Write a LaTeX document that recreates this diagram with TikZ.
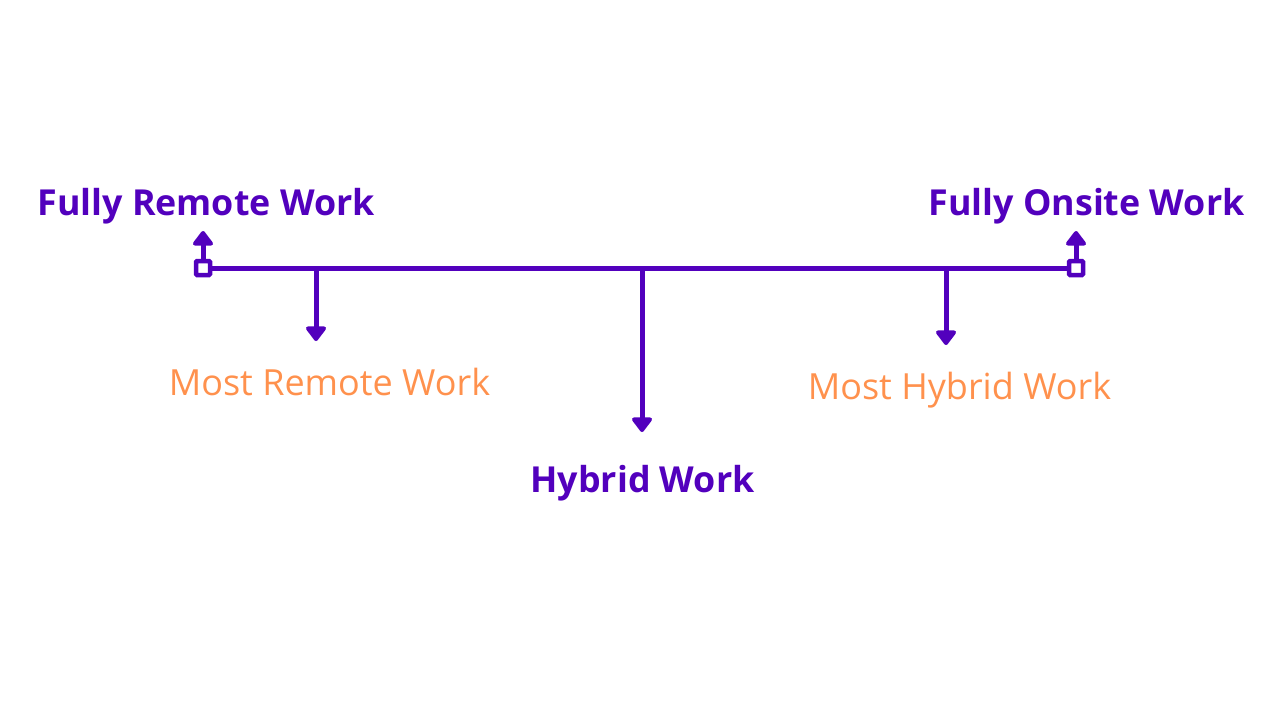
\documentclass[tikz,border=0pt]{standalone}
\usepackage{fontspec}
\setmainfont{Open Sans}
\usetikzlibrary{arrows.meta}
\definecolor{purp}{HTML}{5200BD}
\definecolor{orng}{HTML}{FF914D}
\tikzset{
  axis/.style={draw=purp, line width=5pt, line cap=round},
  tipline/.style={draw=purp, line width=5pt, -{Triangle[width=23pt,length=16pt,round]}},
  endbox/.style={draw=purp, line width=4.5pt, fill=white, minimum size=14pt, inner sep=0pt, rounded corners=1pt},
  mainlbl/.style={text=purp, font=\bfseries\fontsize{35.8}{40}\selectfont, anchor=base, inner sep=0pt},
  sublbl/.style={text=orng, font=\fontsize{36}{40}\selectfont, anchor=base, inner sep=0pt}
}
\begin{document}
\begin{tikzpicture}[x=1pt,y=-1pt]
\useasboundingbox (0,0) rectangle (1280,720);
\coordinate (m1) at (316,268);
\coordinate (m2) at (642,268);
\coordinate (m3) at (946,268);
\coordinate (t1) at (316,341);
\coordinate (t2) at (642,432);
\coordinate (t3) at (946,345);
\coordinate (uL) at (203,231);
\coordinate (uR) at (1076,231);
\node[endbox] (sqL) at (203,268) {};
\node[endbox] (sqR) at (1076,268) {};
\draw[axis] (sqL.east) -- (sqR.west);
\draw[tipline] (sqL.north) -- (uL);
\draw[tipline] (sqR.north) -- (uR);
\draw[tipline] (m1) -- (t1);
\draw[tipline] (m2) -- (t2);
\draw[tipline] (m3) -- (t3);
\node[mainlbl] (fr) at (206,215) {Fully Remote Work};
\node[mainlbl] (fo) at (1086.5,215) {Fully Onsite Work};
\node[mainlbl] (hw) at (642.5,492) {Hybrid Work};
\node[sublbl] (mr) at (329.5,395) {Most Remote Work};
\node[sublbl] (mh) at (959.5,399) {Most Hybrid Work};
\end{tikzpicture}
\end{document}
